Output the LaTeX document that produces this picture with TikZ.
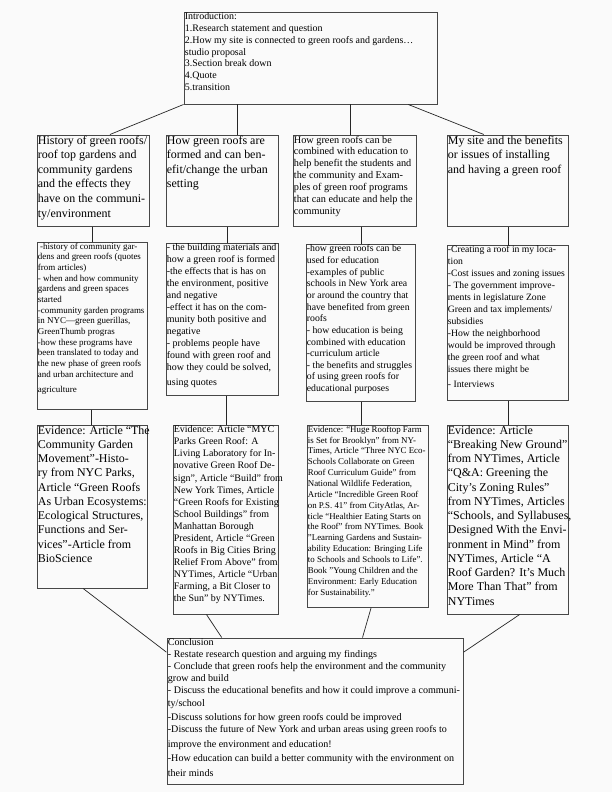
\documentclass[tikz,border=0pt]{standalone}
\usepackage{fontspec}
\setmainfont{Liberation Serif}
\usetikzlibrary{fit,calc}
\newcommand{\fs}[2]{\fontsize{#1}{#2}\selectfont}
\tikzset{
  box/.style={draw=black!72, line width=1pt, inner sep=0pt, fit={#1}},
  txt/.style={anchor=north west, inner sep=1.2pt, align=left, text=black},
  con/.style={draw=black!85, line width=0.7pt}
}
\begin{document}
\begin{tikzpicture}[x=1bp,y=-1bp]
\useasboundingbox[fill=black!2] (0,0) rectangle (612,792);
% boxes
\node[box={(184,12)(437,104)}] (I) {};
\node[box={(37,135)(149,226)}] (A1) {};
\node[box={(166,135)(278,226)}] (B1) {};
\node[box={(293,135)(416,226)}] (C1) {};
\node[box={(447,135)(568,226)}] (D1) {};
\node[box={(37,242)(147,409)}] (A2) {};
\node[box={(166,243)(278,395)}] (B2) {};
\node[box={(306,244)(415,401)}] (C2) {};
\node[box={(447,245)(568,400)}] (D2) {};
\node[box={(37,425)(147,588)}] (A3) {};
\node[box={(173,425)(278,614)}] (B3) {};
\node[box={(307,425)(428,607)}] (C3) {};
\node[box={(447,425)(568,614)}] (D3) {};
\node[box={(167,638)(463,784)}] (Cn) {};
% texts
\node[txt, font=\fs{10}{11.8}] (tI) at (I.north west) {Introduction:\\1.Research statement and question\\2.How my site is connected to green roofs and gardens\ldots\\studio proposal\\3.Section break down\\4.Quote\\5.transition};
\node[txt, font=\fs{12}{14.6}] (tA1) at (A1.north west) {History of green roofs/\\roof top gardens and\\community gardens\\and the effects they\\have on the communi-\\ty/environment};
\node[txt, font=\fs{12}{14.6}] (tB1) at (B1.north west) {How green roofs are\\formed and can ben-\\efit/change the urban\\setting};
\node[txt, font=\fs{10.3}{11.9}] (tC1) at (C1.north west) {How green roofs can be\\combined with education to\\help benefit the students and\\the community and Exam-\\ples of green roof programs\\that can educate and help the\\community};
\node[txt, font=\fs{12}{14.6}] (tD1) at (D1.north west) {My site and the benefits\\or issues of installing\\and having a green roof};
\node[txt, font=\fs{9}{10.7}] (tA2) at (A2.north west) {\ -history of community gar-\\dens and green roofs (quotes\\from articles)\\- when and how community\\gardens and green spaces\\started\\-community garden programs\\in NYC---green guerillas,\\GreenThumb progras\\-how these programs have\\been translated to today and\\the new phase of green roofs\\and urban architecture and\\[4.5pt]agriculture};
\node[txt, font=\fs{10}{12}] (tB2) at (B2.north west) {- the building materials and\\how a green roof is formed\\-the effects that is has on\\the environment, positive\\and negative\\-effect it has on the com-\\munity both positive and\\negative\\- problems people have\\found with green roof and\\how they could be solved,\\[3.5pt]using quotes};
\node[txt, font=\fs{9.8}{11.7}] (tC2) at (C2.north west) {-how green roofs can be\\used for education\\-examples of public\\schools in New York area\\or around the country that\\have benefited from green\\roofs\\- how education is being\\combined with education\\-curriculum article\\- the benefits and struggles\\of using green roofs for\\educational purposes};
\node[txt, font=\fs{9.7}{12}] (tD2) at (D2.north west) {-Creating a roof in my loca-\\tion\\-Cost issues and zoning issues\\- The government improve-\\ments in legislature Zone\\Green and tax implements/\\subsidies\\-How the neighborhood\\would be improved through\\the green roof and what\\issues there might be\\[3.5pt]- Interviews};
\node[txt, font=\fs{12}{14.3}] (tA3) at (A3.north west) {Evidence: Article “The\\Community Garden\\Movement”-Histo-\\ry from NYC Parks,\\Article “Green Roofs\\As Urban Ecosystems:\\Ecological Structures,\\Functions and Ser-\\vices”-Article from\\BioScience};
\node[txt, font=\fs{10}{12.1}] (tB3) at (B3.north west) {Evidence: Article “MYC\\Parks Green Roof: A\\Living Laboratory for In-\\novative Green Roof De-\\sign”, Article “Build” from\\New York Times, Article\\“Green Roofs for Existing\\School Buildings” from\\Manhattan Borough\\President, Article “Green\\Roofs in Big Cities Bring\\Relief From Above” from\\NYTimes, Article “Urban\\Farming, a Bit Closer to\\the Sun” by NYTimes.};
\node[txt, font=\fs{8.9}{10.9}] (tC3) at (C3.north west) {Evidence: “Huge Rooftop Farm\\is Set for Brooklyn” from NY-\\Times, Article “Three NYC Eco-\\Schools Collaborate on Green\\Roof Curriculum Guide” from\\National Wildlife Federation,\\Article “Incredible Green Roof\\on P.S. 41” from CityAtlas, Ar-\\ticle “Healthier Eating Starts on\\the Roof” from NYTimes. Book\\"Learning Gardens and Sustain-\\ability Education: Bringing Life\\to Schools and Schools to Life”.\\Book "Young Children and the\\Environment: Early Education\\for Sustainability."};
\node[txt, font=\fs{12}{14.3}] (tD3) at (D3.north west) {Evidence: Article\\“Breaking New Ground”\\from NYTimes, Article\\“Q\&A: Greening the\\City’s Zoning Rules”\\from NYTimes, Articles\\“Schools, and Syllabuses,\\Designed With the Envi-\\ronment in Mind” from\\NYTimes, Article “A\\Roof Garden? It’s Much\\More Than That” from\\NYTimes};
\node[txt, font=\fs{10.1}{11.9}] (tCn) at (Cn.north west) {Conclusion\\- Restate research question and arguing my findings\\- Conclude that green roofs help the environment and the community\\grow and build\\- Discuss the educational benefits and how it could improve a communi-\\[1.8pt]ty/school\\[2pt]-Discuss solutions for how green roofs could be improved\\-Discuss the future of New York and urban areas using green roofs to\\[2.8pt]improve the environment and education!\\[2.8pt]-How education can build a better community with the environment on\\[2.2pt]their minds};
% connector anchor points
\coordinate (iL) at (I.south west);
\coordinate (a1t) at ($(A1.north west)!0.65!(A1.north east)$);
\coordinate (b1t) at ($(B1.north west)!0.64!(B1.north east)$);
\coordinate (c1t) at ($(C1.north west)!0.465!(C1.north east)$);
\coordinate (iR) at ($(I.south west)!0.885!(I.south east)$);
\coordinate (d1t) at ($(D1.north west)!0.306!(D1.north east)$);
\coordinate (a1b) at ($(A1.south west)!0.49!(A1.south east)$);
\coordinate (b1b) at ($(B1.south west)!0.545!(B1.south east)$);
\coordinate (c1b) at ($(C1.south west)!0.555!(C1.south east)$);
\coordinate (d1b) at ($(D1.south west)!0.505!(D1.south east)$);
\coordinate (a2b) at ($(A2.south west)!0.49!(A2.south east)$);
\coordinate (b2b) at ($(B2.south west)!0.535!(B2.south east)$);
\coordinate (c2b) at ($(C2.south west)!0.505!(C2.south east)$);
\coordinate (d2b) at ($(D2.south west)!0.505!(D2.south east)$);
\coordinate (a3b) at ($(A3.south west)!0.42!(A3.south east)$);
\coordinate (b3b) at ($(B3.south west)!0.32!(B3.south east)$);
\coordinate (c3b) at ($(C3.south west)!0.53!(C3.south east)$);
\coordinate (d3b) at ($(D3.south west)!0.6!(D3.south east)$);
\coordinate (cnL) at ($(Cn.north west)!0.1!(Cn.south west)$);
\coordinate (cnB) at ($(Cn.north west)!0.186!(Cn.north east)$);
\coordinate (cnC) at ($(Cn.north west)!0.66!(Cn.north east)$);
\coordinate (cnR) at ($(Cn.north east)!0.1!(Cn.south east)$);
% connectors
\draw[con] (iL) -- (a1t);
\draw[con] (b1t) -- (b1t |- I.south);
\draw[con] (c1t) -- (c1t |- I.south);
\draw[con] (iR) -- (d1t);
\draw[con] (a1b) -- (a1b |- A2.north);
\draw[con] (b1b) -- (b1b |- B2.north);
\draw[con] (c1b) -- (c1b |- C2.north);
\draw[con] (d1b) -- (d1b |- D2.north);
\draw[con] (a2b) -- (a2b |- A3.north);
\draw[con] (b2b) -- (b2b |- B3.north);
\draw[con] (c2b) -- (c2b |- C3.north);
\draw[con] (d2b) -- (d2b |- D3.north);
\draw[con] (a3b) -- (cnL);
\draw[con] (b3b) -- (cnB);
\draw[con] (c3b) -- (cnC);
\draw[con] (d3b) -- (cnR);
\end{tikzpicture}
\end{document}
